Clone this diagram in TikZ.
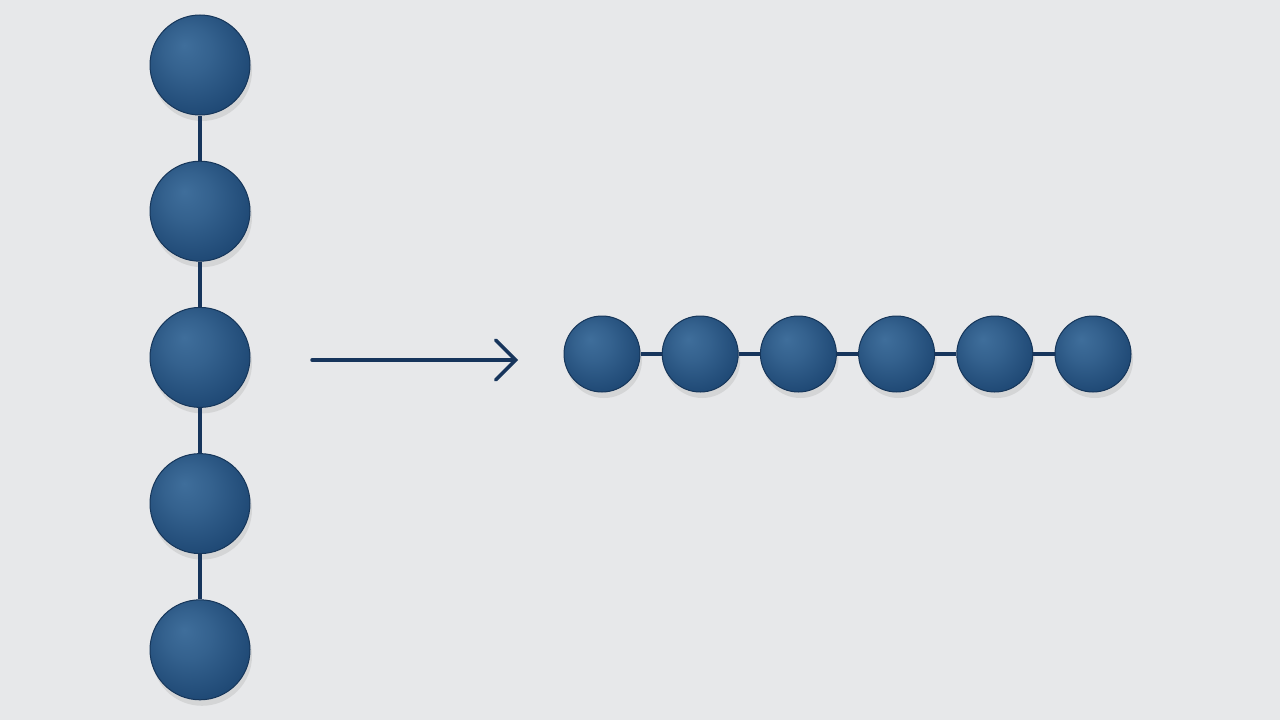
\documentclass[tikz,border=0pt]{standalone}
\usetikzlibrary{arrows.meta,shadows}
\definecolor{bgcol}{HTML}{E7E8EA}
\definecolor{ballin}{HTML}{3F6E9B}
\definecolor{ballout}{HTML}{1B4470}
\definecolor{linkcol}{HTML}{17355C}
\pgfdeclareradialshading{ballhl}{\pgfpoint{-8bp}{10bp}}{%
  color(0bp)=(ballin); color(12bp)=(ballin!70!ballout); color(30bp)=(ballout!90!ballin); color(38bp)=(ballout); color(50bp)=(ballout)}
\begin{document}
\begin{tikzpicture}[x=1pt,y=1pt]
				\tikzstyle{ball} = [circle, draw=ballout!80!black, line width=1pt, inner sep=0pt, shading=ballhl, drop shadow={opacity=0.18, shadow xshift=2pt, shadow yshift=-6pt}]
				\tikzstyle{bigball} = [ball, minimum size=100pt, node distance=146.2pt]
				\tikzstyle{smallball} = [ball, minimum size=76pt, node distance=98.2pt]
				\tikzstyle{link} = [draw=linkcol, line width=4pt]
				\fill[bgcol] (0,0) rectangle (1280,-720);
				\useasboundingbox (0,0) rectangle (1280,-720);
				% vertical chain
				\node[bigball] (v1) at (200,-65) {};
				\node[bigball] (v2) [below of=v1] {};
				\node[bigball] (v3) [below of=v2] {};
				\node[bigball] (v4) [below of=v3] {};
				\node[bigball] (v5) [below of=v4] {};
				\draw[link] (v1) -- (v2);
				\draw[link] (v2) -- (v3);
				\draw[link] (v3) -- (v4);
				\draw[link] (v4) -- (v5);
				% horizontal chain
				\node[smallball] (h1) at (602,-354) {};
				\node[smallball] (h2) [right of=h1] {};
				\node[smallball] (h3) [right of=h2] {};
				\node[smallball] (h4) [right of=h3] {};
				\node[smallball] (h5) [right of=h4] {};
				\node[smallball] (h6) [right of=h5] {};
				\draw[link] (h1) -- (h2);
				\draw[link] (h2) -- (h3);
				\draw[link] (h3) -- (h4);
				\draw[link] (h4) -- (h5);
				\draw[link] (h5) -- (h6);
				% arrow
				\coordinate (a0) at (312,-360);
				\coordinate (a1) at (518,-360);
				\draw[draw=linkcol, line width=3.5pt, line cap=round, -{Straight Barb[length=20pt, width=40pt, line cap=round]}] (a0) -- (a1);
			\end{tikzpicture}
\end{document}
